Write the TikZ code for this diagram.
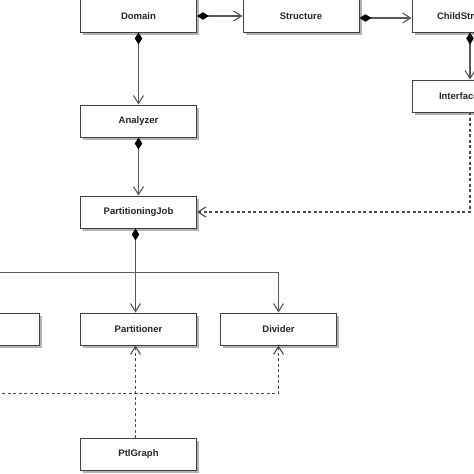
\documentclass[tikz,border=0pt]{standalone}
\usepackage{fontspec}
\setmainfont{Liberation Sans}
\usetikzlibrary{arrows.meta,shadows,calc}
\begin{document}
\begin{tikzpicture}[x=1pt,y=-1pt,
 lbl/.style={font=\fontsize{9.5}{11}\selectfont\bfseries, text=black!85},
 cls/.style={draw=black!75, line width=0.9pt, fill=white, minimum width=116pt, minimum height=32pt, inner sep=0pt,
   lbl, drop shadow={shadow xshift=2.5pt, shadow yshift=-2.5pt, fill=black!30, opacity=1}},
 comp/.style={draw=black!65, line width=1.1pt, {Diamond[length=12pt,width=7.5pt,fill=black,color=black]}-{Straight Barb[length=8pt,width=10pt]}},
 compl/.style={draw=black!65, line width=1.1pt},
 opentip/.style={-{Straight Barb[length=8pt,width=10pt]}},
 dep/.style={draw=black!70, line width=1.1pt, dash pattern=on 3pt off 2.5pt, -{Straight Barb[length=8pt,width=10pt]}},
]
\useasboundingbox (0,0) rectangle (474,474);
\clip (0,0) rectangle (474,474);
\fill[white] (0,0) rectangle (474,474);

\node[cls] (domain) at (138.5,0) [minimum height=64pt] {};
\node[lbl] (domaint) at (138.5,16) {Domain};
\node[cls, minimum height=64pt] (structure) at (301,0) {};
\node[lbl] (structuret) at (301,16) {Structure};
\node[cls, minimum height=64pt] (child) at (470,0) {};
\node[lbl] (childt) at (470,16) {ChildStructure};
\node[cls, text width=62pt, inner xsep=27pt, align=left] (iface) at (470,96) {Interface};
\node[cls] (analyzer) at (138.5,121) {Analyzer};
\node[cls] (pj) at (138.5,212) {PartitioningJob};
\node[cls] (leftbox) at (-19,329) {};
\node[cls] (part) at (138.5,329) {Partitioner};
\node[cls] (div) at (278.5,329) {Divider};
\node[cls] (ptl) at (138.5,454.5) {PtlGraph};

% compositions
\draw[comp] (domain.east |- domaint) -- (structure.west |- domaint);
\draw[comp] ($(structure.east)+(0,18)$) -- ($(child.west)+(0,18)$);
\draw[comp] (child.south) -- (iface.north);
\draw[comp] (domain.south) -- (analyzer.north);
\draw[comp] (analyzer.south) -- (pj.north);
\draw[comp] ($(pj.south)+(-3,0)$) -- ($(part.north)+(-3,0)$);
\draw[compl,opentip] ($(pj.south)+(-3,44)$) -| (div.north);
\draw[compl,opentip] ($(pj.south)+(-3,44)$) -| (leftbox.north);

% dependencies
\draw[dep] (iface.south) |- (pj.east);
\draw[dep] ($(ptl.north)+(-3,0)$) -- ($(part.south)+(-3,0)$);
\draw[dep] ($(ptl.north)+(-3,0)$) |- ($(ptl.north)+(0,-45)$) -| (div.south);
\draw[dep] ($(ptl.north)+(-3,0)$) |- ($(ptl.north)+(0,-45)$) -| (leftbox.south);
\end{tikzpicture}
\end{document}
